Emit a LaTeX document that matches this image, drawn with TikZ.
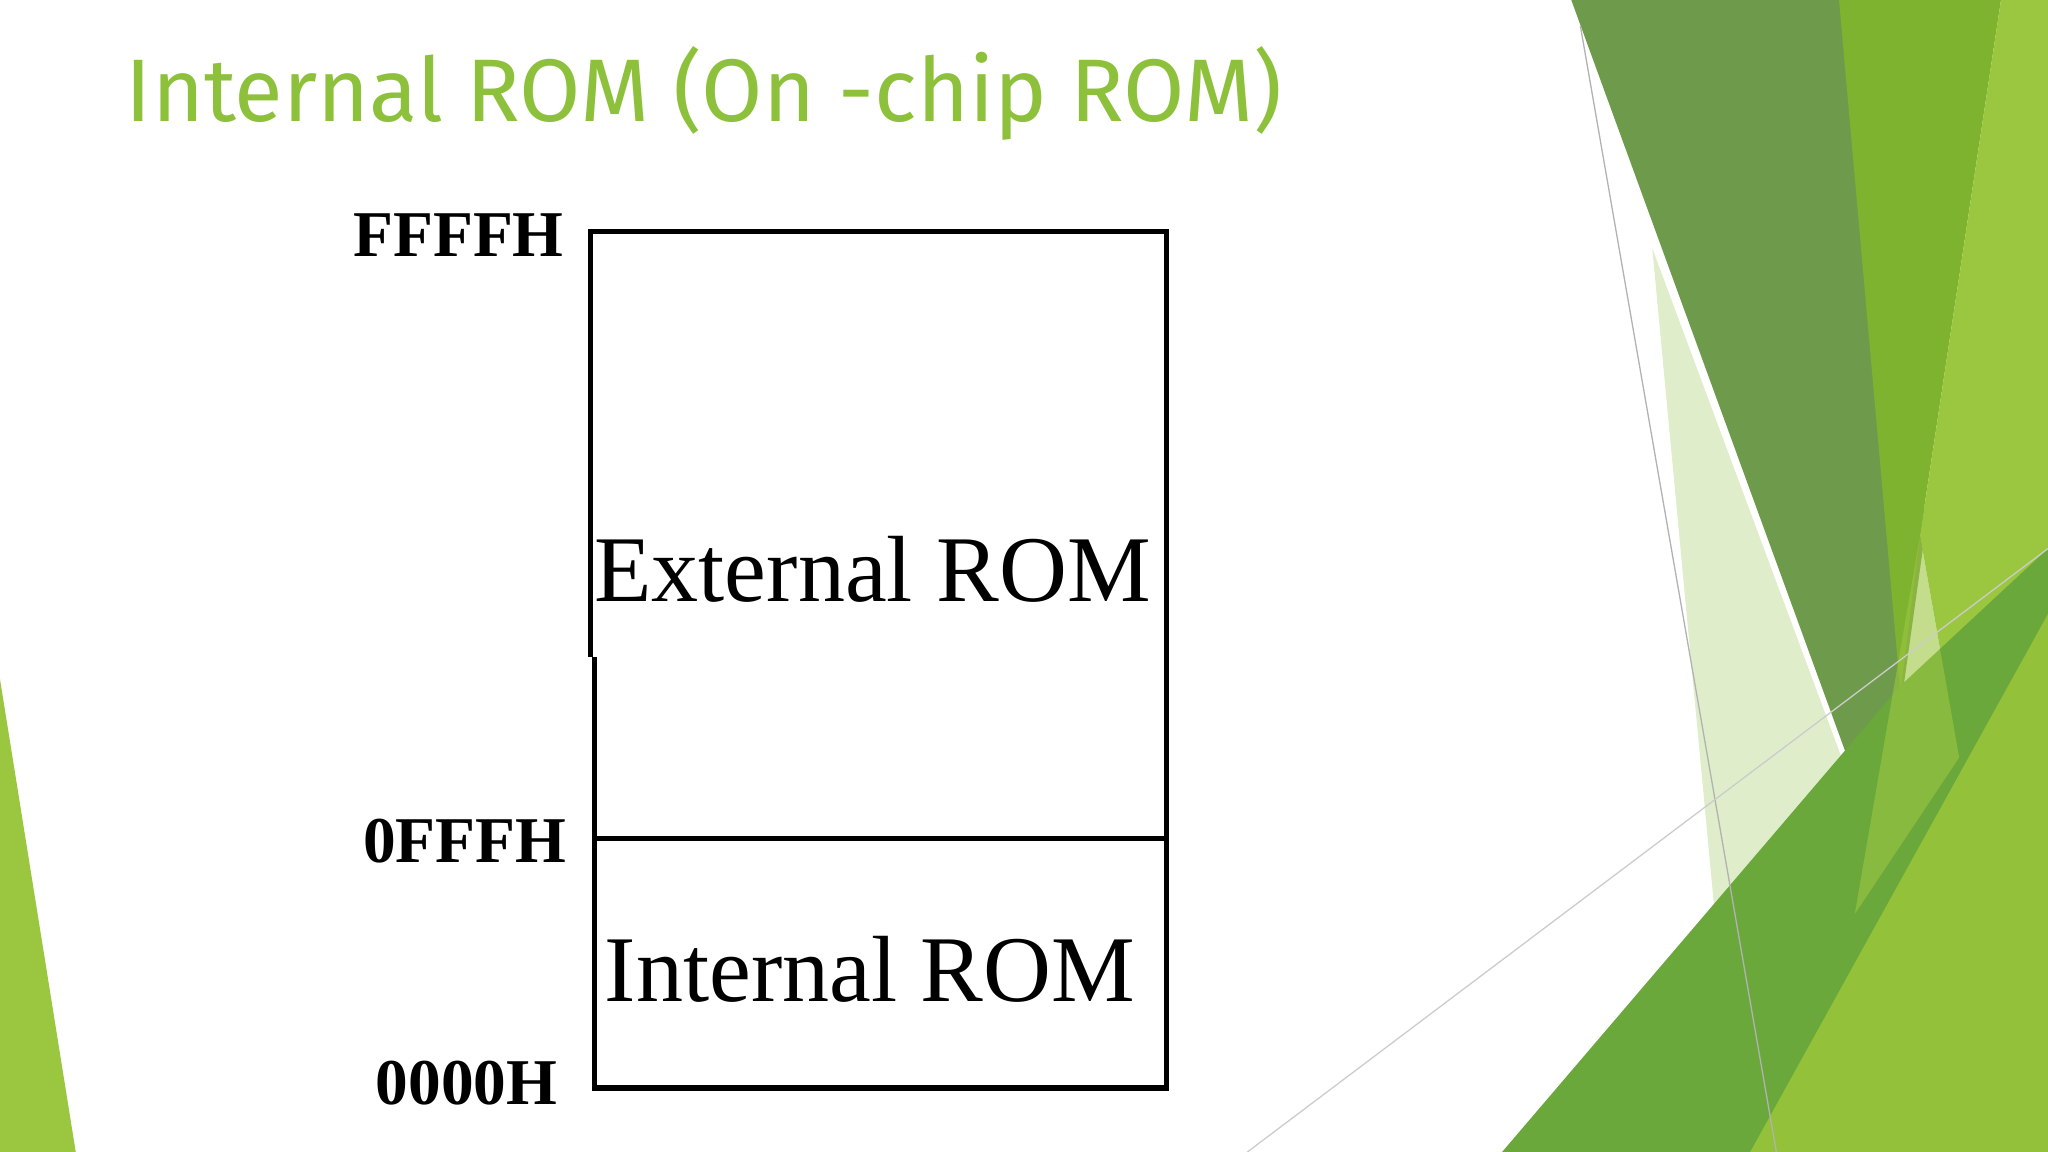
\documentclass[tikz,border=0pt]{standalone}
\usepackage{fontspec}
\setmainfont{Liberation Serif}
\newfontfamily\titlefont{Fira Sans}
\definecolor{tgreen}{HTML}{8DC13B}
\definecolor{dolive}{HTML}{6E9A4C}
\definecolor{bgreen}{HTML}{7DB32F}
\definecolor{lgreen}{HTML}{9BC640}
\definecolor{mgreen}{HTML}{6AA83B}
\definecolor{ygreen}{HTML}{93C13A}
\definecolor{pgreen}{HTML}{DDEBC4}
\tikzset{addr/.style={font=\bfseries\fontsize{25}{25}\selectfont,anchor=east,inner sep=0pt},
 rom/.style={font=\fontsize{36}{36}\selectfont,inner sep=0pt},
 memline/.style={line width=2pt,black}}
\begin{document}
\begin{tikzpicture}[x=0.5pt,y=-0.5pt]
\useasboundingbox (0,0) rectangle (1568,882);
% background shapes
\fill[pgreen,opacity=0.9] (1265,190) -- (1410,580) -- (1200,882) -- (1330,882) -- cycle;
\fill[dolive] (1203,0) -- (1420,0) -- (1475,400) -- (1440,650) -- cycle;
\fill[bgreen] (1408,0) -- (1532,0) -- (1470,410) -- (1455,530) -- cycle;
\fill[lgreen] (1532,0) -- (1568,0) -- (1568,430) -- (1500,580) -- (1470,410) -- cycle;
\fill[mgreen] (1150,882) -- (1455,525) -- (1568,420) -- (1568,882) -- cycle;
\fill[ygreen] (1340,882) -- (1568,470) -- (1568,882) -- cycle;
\fill[lgreen,opacity=0.6] (1420,700) -- (1500,580) -- (1470,410) -- cycle;
\draw[gray!60,line width=0.5] (1210,20) -- (1360,882);
\draw[gray!40,line width=0.5] (955,882) -- (1568,420);
\fill[lgreen] (0,520) -- (58,882) -- (0,882) -- cycle;
% title
\node[anchor=base west,inner sep=0pt,text=tgreen,font=\titlefont\fontsize{34}{34}\selectfont] (title) at (96,93) {Internal ROM (On -chip ROM)};
% memory map
\coordinate (tl) at (452,177);
\coordinate (tr) at (893,177);
\coordinate (ml) at (455,642);
\coordinate (mr) at (893,642);
\coordinate (bl) at (455,833);
\coordinate (br) at (893,833);
\coordinate (sl) at (452,503);
\coordinate (sl2) at (455,503);
\draw[memline] (sl) -- (tl) -- (tr) -- (br) -- (bl) -- (sl2);
\draw[memline] (ml) -- (mr);
\node[addr] (a1) at (432,180) {FFFFH};
\node[addr] (a2) at (434,644) {0FFFH};
\node[addr] (a3) at (427,829) {0000H};
\node[rom] (ext) at (668,436) {External ROM};
\node[rom] (int) at (666,742) {Internal ROM};
\end{tikzpicture}
\end{document}
